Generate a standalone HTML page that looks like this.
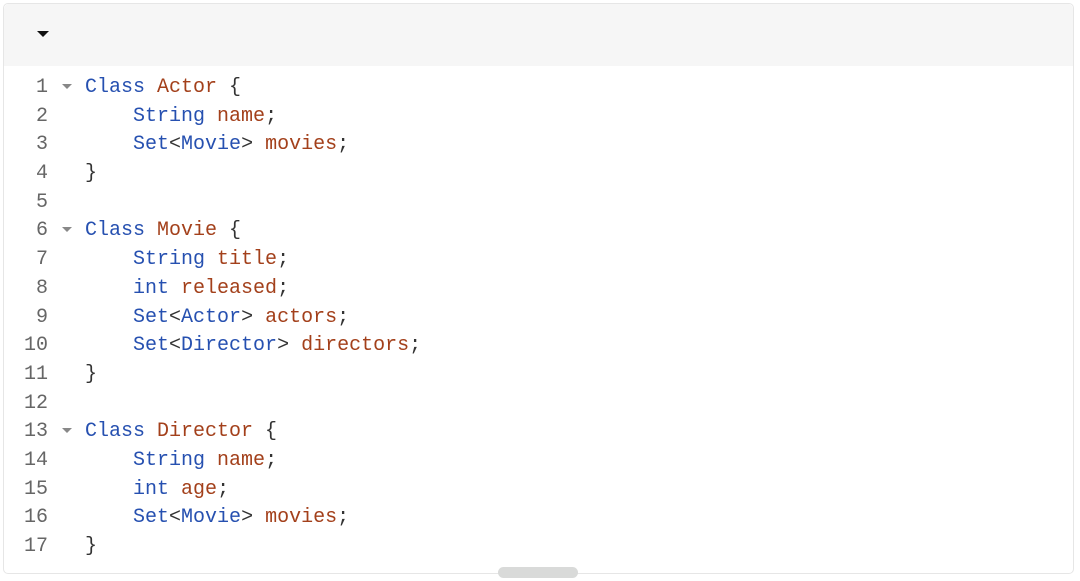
<!DOCTYPE html>
<html><head><style>
body{margin:0;width:1080px;height:581px;background:#fff;position:relative;overflow:hidden;font-family:"Liberation Mono",monospace;}
.box{position:absolute;left:3px;top:3px;width:1069px;height:569px;border:1px solid #e6e6e6;border-radius:5px;background:#fff;}
.hdr{position:absolute;left:0;top:0;right:0;height:62px;background:#f6f6f6;border-radius:5px 5px 0 0;}
.tri{position:absolute;left:33px;top:27px;width:0;height:0;border-left:6px solid transparent;border-right:6px solid transparent;border-top:6px solid #111;}
.code{position:absolute;left:0;top:74px;width:1080px;font-size:20px;line-height:28.7px;color:#333;}
.row{position:relative;height:28.7px;}
.ln{position:absolute;left:0;width:48px;text-align:right;color:#666;}
.f{position:absolute;left:62px;top:0;width:0;height:0;border-left:5px solid transparent;border-right:5px solid transparent;border-top:5px solid #888;margin-top:10px;}
.c{position:absolute;left:85px;white-space:pre;}
.k{color:#2650b0}.n{color:#a3401b}
.handle{position:absolute;left:498px;top:567px;width:80px;height:11px;border-radius:6px;background:#d9dad9;}
</style></head><body>
<div class="box"><div class="hdr"><div class="tri"></div></div></div>
<div class="code"><div class="row"><span class="ln">1</span><span class="f"></span><span class="c"><span class="k">Class</span> <span class="n">Actor</span> {</span></div><div class="row"><span class="ln">2</span><span class="c">    <span class="k">String</span> <span class="n">name</span>;</span></div><div class="row"><span class="ln">3</span><span class="c">    <span class="k">Set</span>&lt;<span class="k">Movie</span>&gt; <span class="n">movies</span>;</span></div><div class="row"><span class="ln">4</span><span class="c">}</span></div><div class="row"><span class="ln">5</span></div><div class="row"><span class="ln">6</span><span class="f"></span><span class="c"><span class="k">Class</span> <span class="n">Movie</span> {</span></div><div class="row"><span class="ln">7</span><span class="c">    <span class="k">String</span> <span class="n">title</span>;</span></div><div class="row"><span class="ln">8</span><span class="c">    <span class="k">int</span> <span class="n">released</span>;</span></div><div class="row"><span class="ln">9</span><span class="c">    <span class="k">Set</span>&lt;<span class="k">Actor</span>&gt; <span class="n">actors</span>;</span></div><div class="row"><span class="ln">10</span><span class="c">    <span class="k">Set</span>&lt;<span class="k">Director</span>&gt; <span class="n">directors</span>;</span></div><div class="row"><span class="ln">11</span><span class="c">}</span></div><div class="row"><span class="ln">12</span></div><div class="row"><span class="ln">13</span><span class="f"></span><span class="c"><span class="k">Class</span> <span class="n">Director</span> {</span></div><div class="row"><span class="ln">14</span><span class="c">    <span class="k">String</span> <span class="n">name</span>;</span></div><div class="row"><span class="ln">15</span><span class="c">    <span class="k">int</span> <span class="n">age</span>;</span></div><div class="row"><span class="ln">16</span><span class="c">    <span class="k">Set</span>&lt;<span class="k">Movie</span>&gt; <span class="n">movies</span>;</span></div><div class="row"><span class="ln">17</span><span class="c">}</span></div></div>
<div class="handle"></div>
</body></html>
